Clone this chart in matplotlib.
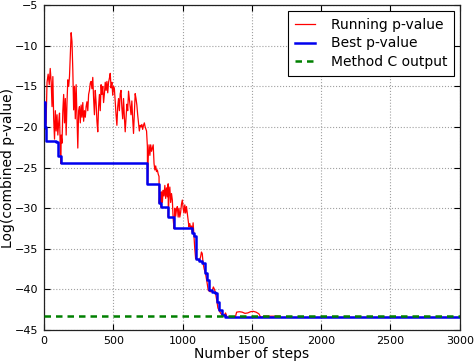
import matplotlib
matplotlib.use("Agg")
import matplotlib.pyplot as plt

# Running p-value (red)
run_steps = [0, 8, 15, 22, 30, 38, 45, 52, 58, 64, 70, 76, 82, 88, 94, 100, 106, 112, 118, 122,
             124, 130, 136, 142, 148, 154, 160, 166, 172, 178, 184, 190, 196, 202, 208, 214, 220,
             226, 232, 238, 244, 250, 256, 262, 268, 274, 280, 286, 292, 298, 304, 310, 316, 322,
             328, 334, 340, 346, 352, 358, 364, 370, 376, 382, 388, 394, 400, 406, 412, 418, 424,
             430, 436, 442, 448, 454, 460, 466, 472, 478, 484, 490, 496, 502, 508, 514, 520, 526,
             532, 538, 544, 550, 556, 562, 568, 574, 580, 586, 592, 598, 604, 610, 616, 622, 628,
             634, 640, 646, 652, 658, 664, 670, 676, 682, 688, 694, 700, 706, 712, 718, 724, 730,
             740, 746, 747, 752, 758, 764, 770, 776, 782, 788, 794, 800, 806, 812, 818, 824, 830,
             832, 836, 842, 846, 848, 854, 860, 866, 872, 878, 884, 890, 896, 897, 902, 908, 914,
             920, 926, 932, 938, 944, 950, 956, 962, 968, 974, 980, 986, 992, 998, 1004, 1010,
             1016, 1022, 1028, 1034, 1040, 1046, 1052, 1058, 1064, 1070, 1076, 1082, 1088, 1094,
             1100, 1110, 1120, 1130, 1136, 1142, 1148, 1156, 1165, 1175, 1185, 1200, 1215, 1222,
             1230, 1237, 1245, 1255, 1270, 1286, 1300, 1310, 1320, 1340, 1380, 1390, 1410, 1430,
             1450, 1470, 1490, 1510, 1530, 1550, 1565, 1590, 1700, 1710, 3000]
run_vals = [-17.0, -20.3, -19.5, -14.5, -13.5, -14.8, -12.8, -14.5, -17.5, -13.8, -19.0, -21.5,
            -18.0, -20.5, -18.5, -21.0, -19.5, -18.3, -23.3, -24.5,
            -21.0, -22.0, -18.0, -16.0, -19.5, -16.5, -21.0, -17.0, -14.2, -15.0, -13.8, -11.0,
            -8.4, -9.5, -13.0, -17.9, -15.0, -19.0, -14.8, -18.5, -22.6, -18.0, -17.5, -19.5,
            -17.3, -18.8, -17.0, -19.3, -18.0, -18.8, -17.5, -16.9, -18.0, -16.0, -15.5, -14.6,
            -14.4, -15.3, -13.9, -16.5, -18.5, -15.5, -17.0, -19.3, -20.6, -17.5, -16.0, -18.0,
            -14.8, -16.0, -15.0, -17.0, -15.9, -14.5, -15.5, -14.4, -15.8, -14.5, -14.0, -13.4,
            -15.2, -14.5, -16.1, -15.0, -15.3, -17.0, -18.5, -19.8, -17.5, -16.5, -18.0, -15.9,
            -15.5, -17.7, -19.0, -16.5, -18.8, -20.6, -19.0, -17.2, -18.0, -15.6, -16.5, -17.5,
            -18.5, -16.8, -19.0, -20.8, -18.5, -15.9, -16.5, -17.3, -18.5, -19.5, -20.5, -19.8,
            -20.0, -19.7, -20.3, -19.8, -19.5, -20.0, -20.5, -22.4, -27.0, -23.7, -22.2, -23.5,
            -22.2, -23.0, -22.6, -22.2, -24.5, -25.3, -24.8, -25.5, -25.3, -25.8, -26.1, -29.4,
            -28.0, -29.0, -29.9, -28.0, -29.3, -27.8, -28.5, -27.2, -28.8, -27.5, -28.6, -27.0,
            -31.05, -28.5, -27.4, -29.3, -28.2, -29.0, -31.3, -32.5, -30.0, -31.0, -30.2, -29.8,
            -31.1, -30.0, -31.1, -30.5, -29.5, -29.0, -30.0, -30.6, -29.6, -30.6, -29.8, -30.6,
            -31.5, -32.3, -31.9, -32.4, -32.2, -33.0, -31.8, -33.5, -35.0, -36.2, -36.2, -36.3,
            -36.5, -36.0, -35.4, -35.6, -36.8, -37.5, -38.0, -39.0, -40.1, -40.3, -40.1, -39.7,
            -40.0, -40.4, -41.2, -42.3, -42.8, -43.2, -43.2, -42.9, -43.4, -43.45, -43.45, -42.8,
            -42.75, -42.8, -42.95, -42.9, -42.75, -42.7, -42.8, -43.0, -43.45, -43.3, -43.3,
            -43.45, -43.45]

# Best p-value (blue), step function
best_steps = [0, 8, 15, 86, 103, 122, 746, 830, 845, 897, 938, 1070, 1081, 1094, 1120, 1142,
              1165, 1175, 1189, 1215, 1237, 1250, 1261, 1286, 1309, 3000]
best_vals = [-16.9, -20.0, -21.7, -21.9, -23.6, -24.5, -27.0, -29.4, -29.9, -31.05, -32.5,
             -33.0, -33.4, -36.2, -36.5, -36.8, -38.0, -38.8, -40.1, -40.3, -40.4, -41.5,
             -42.5, -43.2, -43.45, -43.45]

method_c = -43.3
x_range = [0, 3000]
x_ticks = [0, 500, 1000, 1500, 2000, 2500, 3000]
y_ticks = [-45, -40, -35, -30, -25, -20, -15, -10, -5]

fig = plt.figure(figsize=(4.74, 3.64), dpi=100)
ax = fig.add_axes([0.0928, 0.0934, 0.8772, 0.8926])

ax.plot(run_steps, run_vals, color='red', lw=0.9, label='Running p-value', zorder=2)
ax.plot(best_steps, best_vals, color='#0000ee', lw=1.8, drawstyle='steps-post',
        label='Best p-value', zorder=3)
ax.plot(x_range, [method_c, method_c], color='green', lw=1.8, ls=(0, (2.6, 2.0)),
        label='Method C output', zorder=4)

ax.set_xlim(0, 3000)
ax.set_ylim(-45, -5)
ax.set_xticks(x_ticks)
ax.set_yticks(y_ticks)
ax.tick_params(direction='in', top=True, right=True, labelsize=8, length=4, pad=4)
ax.grid(True, color='#a0a0a0', ls=':', lw=0.8)
ax.set_axisbelow(True)
for s in ax.spines.values():
    s.set_color('#222222')
    s.set_linewidth(0.9)
ax.set_xlabel('Number of steps', fontsize=10, labelpad=1)
ax.set_ylabel('Log(combined p-value)', fontsize=10, labelpad=0)

leg = ax.legend(loc='upper right', fontsize=10, fancybox=False, framealpha=1,
                edgecolor='black', borderaxespad=0.45, handlelength=1.45, handletextpad=1.15,
                labelspacing=0.35, borderpad=0.45)
leg.get_frame().set_linewidth(0.8)

fig.savefig('out.png', dpi=100)
